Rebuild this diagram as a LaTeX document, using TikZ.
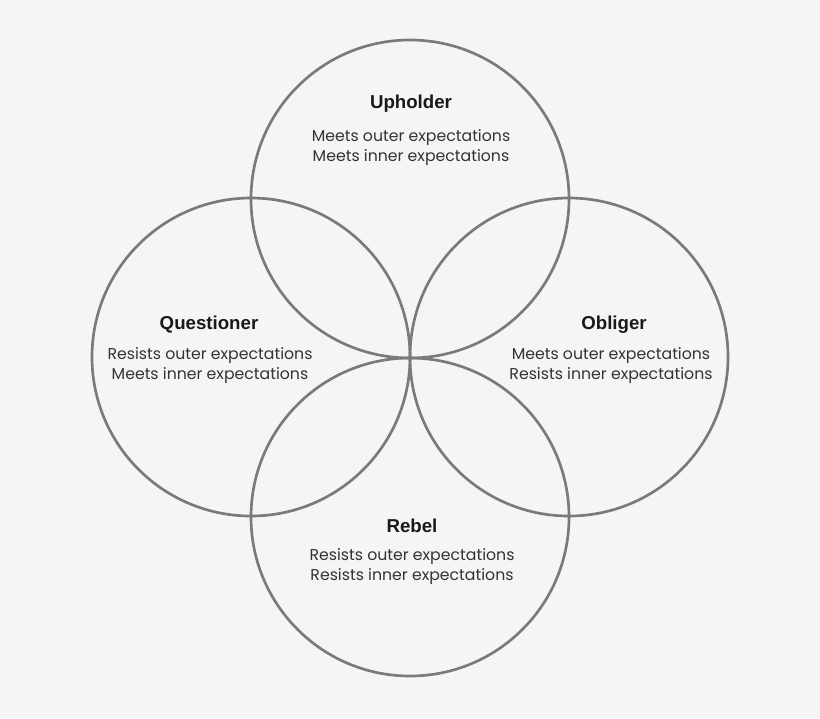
\documentclass[tikz,border=0pt]{standalone}
\usepackage{fontspec}
\setmainfont{Poppins}
\newfontfamily\headfont{Liberation Sans}
\usepackage{tikz}

\begin{document}
\begin{tikzpicture}[x=0.75pt,y=-0.75pt,
  ring/.style={circle,draw=black!52,line width=2pt,minimum size=318*0.75pt,inner sep=0pt},
  title/.style={font=\headfont\bfseries\fontsize{14pt}{16pt}\selectfont,text=black!90},
  desc/.style={align=center,font=\fontsize{11.8pt}{15pt}\selectfont,text=black!80}]
\fill[black!4] (0,0) rectangle (820,718);
\useasboundingbox (0,0) rectangle (820,718);

\coordinate (U) at (410,199);
\coordinate (Q) at (251,357);
\coordinate (O) at (569,357);
\coordinate (R) at (410,517);

\node[ring] (upholder) at (U) {};
\node[ring] (questioner) at (Q) {};
\node[ring] (obliger) at (O) {};
\node[ring] (rebel) at (R) {};

\node[title] (uT) at (411,104) {Upholder};
\node[desc] (uD) at (411,148) {Meets outer expectations\\Meets inner expectations};
\node[title] (qT) at (209,325) {Questioner};
\node[desc] (qD) at (210,366) {Resists outer expectations\\Meets inner expectations};
\node[title] (oT) at (614,325) {Obliger};
\node[desc] (oD) at (611,366) {Meets outer expectations\\Resists inner expectations};
\node[title] (rT) at (412,526) {Rebel};
\node[desc] (rD) at (412,567) {Resists outer expectations\\Resists inner expectations};
\end{tikzpicture}
\end{document}
